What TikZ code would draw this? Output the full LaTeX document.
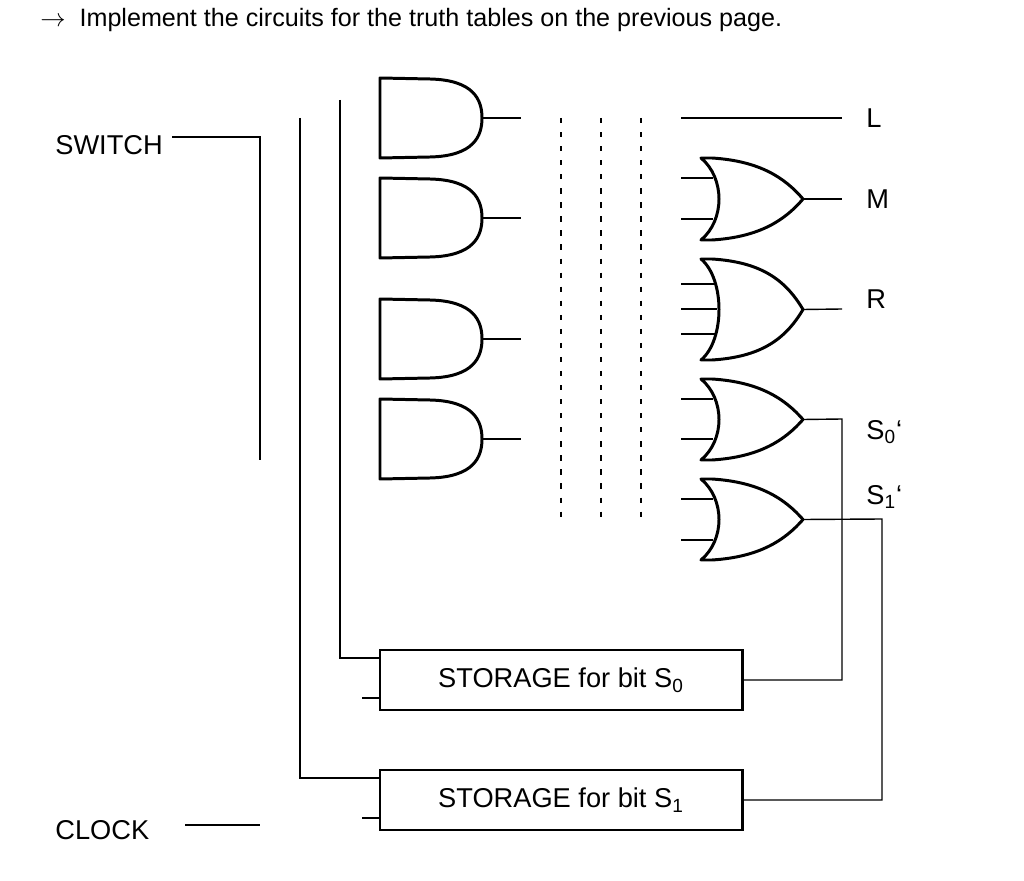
\documentclass[tikz,border=0pt]{standalone}
\usepackage{fontspec}
\setmainfont{Liberation Sans}
\begin{document}
\begin{tikzpicture}[x=0.02cm,y=-0.02cm,
    wire/.style={line width=0.8pt},
    gate/.style={line width=1.7pt,line join=round},
    dots/.style={line width=0.6pt,dash pattern=on 3pt off 5pt},
    lbl/.style={font=\fontsize{15.5}{18}\selectfont,inner sep=0pt},
    store/.style={draw,line width=1.7pt,minimum width=362*0.02cm,minimum height=60*0.02cm,font=\fontsize{15.5}{18}\selectfont}
]
\useasboundingbox (0,0) rectangle (1024,881);

% header
\node[anchor=west,font=\fontsize{14.3}{17}\selectfont,inner sep=0pt] (hdr) at (40,20) {$\rightarrow$\ \ Implement the circuits for the truth tables on the previous page.};

% AND gates: #1 = top y
\newcommand{\andgate}[2]{%
  \draw[gate] (380,#1) -- (430,#1+1) .. controls (474,#1+2) and (482,#1+22) .. (482,#1+40)
    .. controls (482,#1+58) and (474,#1+78) .. (430,#1+79) -- (380,#1+80) -- cycle;
  \coordinate (#2o) at (482,#1+40);
  \coordinate (#2e) at (521,#1+40);
  \draw[wire] (#2o) -- (#2e);}
\andgate{78}{a1}
\andgate{178}{a2}
\andgate{299}{a3}
\andgate{399}{a4}

% OR gates: #1 top, #2 bottom
\newcommand{\orgate}[3]{%
  \draw[gate] (701,#1) -- (712,#1) .. controls (760,#1+3) and (785,#1+20) .. (803,{(#1+#2)/2})
    .. controls (785,#2-20) and (760,#2-3) .. (712,#2) -- (701,#2)
    .. controls (725,#2-20) and (725,#1+20) .. (701,#1) -- cycle;
  \coordinate (#3) at (803,{(#1+#2)/2});}
\orgate{158}{240}{oM}
\orgate{259}{360}{oR}
\orgate{379}{460}{oS0}
\orgate{479}{560}{oS1}

% OR inputs
\foreach \y/\xe in {178/713,219/713,284/715,309/717,334/715,399/713,439/713,499/713,540/713}
  \draw[wire] (681,\y) -- (\xe,\y);

% dotted columns
\foreach \x in {561,601,641}
  \draw[dots] (\x,118) -- (\x,520);

% outputs
\coordinate (lS) at (681,118);
\coordinate (lE) at (842,118);
\draw[wire] (lS) -- (lE);
\node[lbl,anchor=west] (L) at (866,118) {L};
\draw[wire] (oM) -- (842,199);
\node[lbl,anchor=west] (M) at (866,199) {M};
\draw[wire] (oR) -- (842,309);
\node[lbl,anchor=west] (R) at (866,299) {R};
\node[lbl,anchor=west] (S0) at (866,432) {S\textsubscript{0}‘};
\node[lbl,anchor=west] (S1) at (866,497) {S\textsubscript{1}‘};

% storage boxes
\node[store] (st0) at (561,680) {STORAGE for bit S\textsubscript{0}};
\node[store] (st1) at (561,800) {STORAGE for bit S\textsubscript{1}};

\draw[wire] (oS0) -- (842,419) |- (st0.east);
\draw[wire] (oS1) -- (882,519) |- (st1.east);

% feedback verticals
\draw[wire] (340,100) |- (380,658);
\draw[wire] (300,118) |- (380,778);
\draw[wire] (362,698) -- (380,698);
\draw[wire] (362,818) -- (380,818);

% switch and clock
\node[lbl,anchor=west] (sw) at (55,145) {SWITCH};
\draw[wire] (172,137) -- (260,137) -- (260,460);
\node[lbl,anchor=west] (clk) at (55,830) {CLOCK};
\draw[wire] (185,825) -- (260,825);
\end{tikzpicture}
\end{document}
